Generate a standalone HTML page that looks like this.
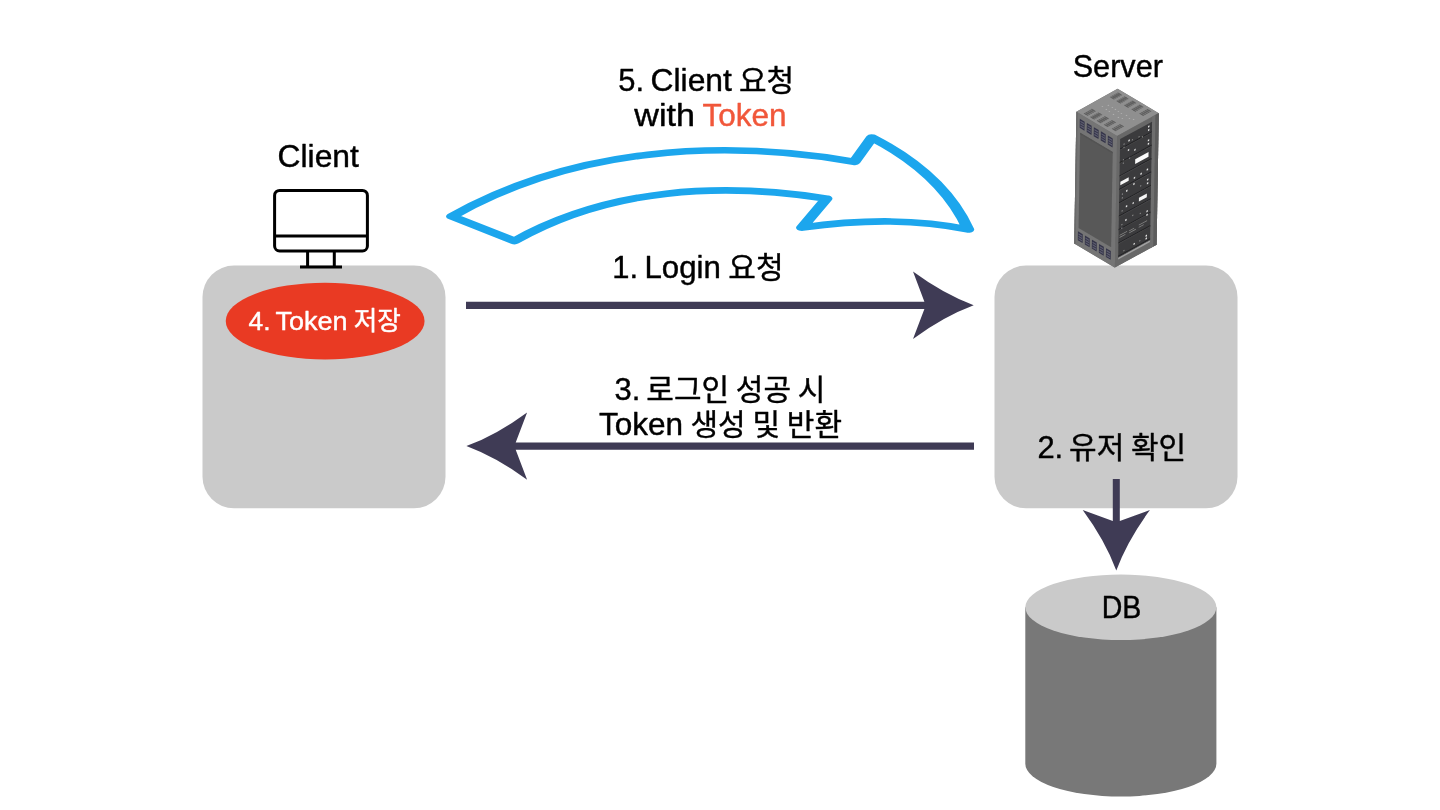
<!DOCTYPE html>
<html lang="ko">
<head>
<meta charset="utf-8">
<title>Token 인증 흐름</title>
<style>
html,body{margin:0;padding:0;background:#fff;}
body{width:1440px;height:810px;overflow:hidden;position:relative;}
svg{position:absolute;left:0;top:0;display:block;will-change:transform;}
text{font-family:"Liberation Sans", "Noto Sans CJK KR", sans-serif;white-space:pre;stroke-linejoin:round;}
</style>
</head>
<body>
<svg width="1440" height="810" viewBox="0 0 1440 810">
<!-- client / server boxes -->
<rect x="202.5" y="265.5" width="243" height="242.8" rx="31.5" ry="31.5" fill="#cacaca"/>
<rect x="994.5" y="265.5" width="243" height="242.8" rx="31.5" ry="31.5" fill="#cacaca"/>
<ellipse cx="325.15" cy="321.05" rx="99.4" ry="38.4" fill="#e93a23"/>
<!-- monitor icon -->
<g fill="none" stroke="#000" stroke-width="3">
<rect x="274.6" y="190.4" width="92.8" height="60.6" rx="5" ry="5"/>
<path d="M274.6,236 H367.4"/>
<path d="M307.6,251 V267 M334.3,251 V267"/>
<path d="M300,267 H342"/>
</g>
<!-- arrows -->
<path fill="#3f3b55" d="M466.0,301.7 H924.4 L913.0,271.6 Q943.4,294.0 973.7,305.3 Q943.4,316.6 913.0,339.0 L924.4,308.9 H466.0 Z"/>
<path fill="#3f3b55" d="M974.0,442.5 H515.7 L527.1,412.4 Q496.8,434.8 466.4,446.1 Q496.8,457.4 527.1,479.8 L515.7,449.7 H974.0 Z"/>
<path fill="#3f3b55" d="M1112.8,479.0 V521.0 L1082.7,510.0 Q1105.0,540.2 1116.3,570.4 Q1127.6,540.2 1149.9,510.0 L1119.8,521.0 V479.0 Z"/>
<!-- curved outline arrow -->
<g transform="scale(1.8 1)"><path fill="none" stroke="#1ca6ed" stroke-width="6.6" stroke-linejoin="round" d="M251.11,216.4 C318.55,148.0 399.67,138.5 474.72,161.8 L484.44,137.6 C506.71,158.3 527.27,187.6 537.94,229.5 C507.56,218.1 476.14,219.8 445.56,227.6 L459.17,198.6 C400.88,182.2 338.29,187.7 285.83,241.0 Z"/></g>
<!-- database cylinder -->
<path fill="#787878" d="M1025.3,607.3 V763.7 A95.5,32.8 0 0 0 1216.4,763.7 V607.3 Z"/>
<ellipse cx="1120.85" cy="607.3" rx="95.55" ry="32.8" fill="#cacaca"/>
<!-- server rack icon -->
<defs><filter id="soft" x="-5%" y="-5%" width="110%" height="110%"><feGaussianBlur stdDeviation="0.45"/></filter></defs>
<g id="server-rack" filter="url(#soft)">
<polygon points="1117.6,88.7 1158.8,113.3 1156.6,244.7 1114.9,267.5 1074.2,243.5 1076.4,111.8" fill="#727272"/>
<g transform="matrix(0.4070 0.2430 0.4120 -0.2310 1076.40 111.80)">
<rect x="0.0" y="0.0" width="100.0" height="100.0" fill="#8f8f8f"/>
<rect x="12.0" y="5.7" width="10.0" height="20.0" fill="#7a7a7a"/><rect x="12.0" y="5.7" width="10.0" height="2.0" fill="#5e5e5e"/><rect x="12.0" y="10.1" width="10.0" height="2.0" fill="#5e5e5e"/><rect x="12.0" y="14.5" width="10.0" height="2.0" fill="#5e5e5e"/><rect x="12.0" y="18.9" width="10.0" height="2.0" fill="#5e5e5e"/><rect x="12.0" y="23.3" width="10.0" height="2.0" fill="#5e5e5e"/><rect x="16.0" y="5.7" width="2.0" height="20.0" fill="#5e5e5e"/>
<rect x="27.4" y="6.3" width="10.0" height="20.0" fill="#7a7a7a"/><rect x="27.4" y="6.3" width="10.0" height="2.0" fill="#5e5e5e"/><rect x="27.4" y="10.7" width="10.0" height="2.0" fill="#5e5e5e"/><rect x="27.4" y="15.1" width="10.0" height="2.0" fill="#5e5e5e"/><rect x="27.4" y="19.5" width="10.0" height="2.0" fill="#5e5e5e"/><rect x="27.4" y="23.9" width="10.0" height="2.0" fill="#5e5e5e"/><rect x="31.4" y="6.3" width="2.0" height="20.0" fill="#5e5e5e"/>
<rect x="43.3" y="6.6" width="10.0" height="20.0" fill="#7a7a7a"/><rect x="43.3" y="6.6" width="10.0" height="2.0" fill="#5e5e5e"/><rect x="43.3" y="11.0" width="10.0" height="2.0" fill="#5e5e5e"/><rect x="43.3" y="15.4" width="10.0" height="2.0" fill="#5e5e5e"/><rect x="43.3" y="19.8" width="10.0" height="2.0" fill="#5e5e5e"/><rect x="43.3" y="24.2" width="10.0" height="2.0" fill="#5e5e5e"/><rect x="47.3" y="6.6" width="2.0" height="20.0" fill="#5e5e5e"/>
<rect x="60.0" y="7.3" width="10.0" height="20.0" fill="#7a7a7a"/><rect x="60.0" y="7.3" width="10.0" height="2.0" fill="#5e5e5e"/><rect x="60.0" y="11.7" width="10.0" height="2.0" fill="#5e5e5e"/><rect x="60.0" y="16.1" width="10.0" height="2.0" fill="#5e5e5e"/><rect x="60.0" y="20.5" width="10.0" height="2.0" fill="#5e5e5e"/><rect x="60.0" y="24.9" width="10.0" height="2.0" fill="#5e5e5e"/><rect x="64.0" y="7.3" width="2.0" height="20.0" fill="#5e5e5e"/>
<rect x="78.0" y="8.9" width="10.0" height="20.0" fill="#7a7a7a"/><rect x="78.0" y="8.9" width="10.0" height="2.0" fill="#5e5e5e"/><rect x="78.0" y="13.3" width="10.0" height="2.0" fill="#5e5e5e"/><rect x="78.0" y="17.7" width="10.0" height="2.0" fill="#5e5e5e"/><rect x="78.0" y="22.1" width="10.0" height="2.0" fill="#5e5e5e"/><rect x="78.0" y="26.5" width="10.0" height="2.0" fill="#5e5e5e"/><rect x="82.0" y="8.9" width="2.0" height="20.0" fill="#5e5e5e"/>
<rect x="8.6" y="72.7" width="10.0" height="20.0" fill="#7a7a7a"/><rect x="8.6" y="72.7" width="10.0" height="2.0" fill="#5e5e5e"/><rect x="8.6" y="77.1" width="10.0" height="2.0" fill="#5e5e5e"/><rect x="8.6" y="81.5" width="10.0" height="2.0" fill="#5e5e5e"/><rect x="8.6" y="85.9" width="10.0" height="2.0" fill="#5e5e5e"/><rect x="8.6" y="90.3" width="10.0" height="2.0" fill="#5e5e5e"/><rect x="12.6" y="72.7" width="2.0" height="20.0" fill="#5e5e5e"/>
<rect x="24.7" y="72.8" width="10.0" height="20.0" fill="#7a7a7a"/><rect x="24.7" y="72.8" width="10.0" height="2.0" fill="#5e5e5e"/><rect x="24.7" y="77.2" width="10.0" height="2.0" fill="#5e5e5e"/><rect x="24.7" y="81.6" width="10.0" height="2.0" fill="#5e5e5e"/><rect x="24.7" y="86.0" width="10.0" height="2.0" fill="#5e5e5e"/><rect x="24.7" y="90.4" width="10.0" height="2.0" fill="#5e5e5e"/><rect x="28.7" y="72.8" width="2.0" height="20.0" fill="#5e5e5e"/>
<rect x="42.7" y="73.5" width="10.0" height="20.0" fill="#7a7a7a"/><rect x="42.7" y="73.5" width="10.0" height="2.0" fill="#5e5e5e"/><rect x="42.7" y="77.9" width="10.0" height="2.0" fill="#5e5e5e"/><rect x="42.7" y="82.3" width="10.0" height="2.0" fill="#5e5e5e"/><rect x="42.7" y="86.7" width="10.0" height="2.0" fill="#5e5e5e"/><rect x="42.7" y="91.1" width="10.0" height="2.0" fill="#5e5e5e"/><rect x="46.7" y="73.5" width="2.0" height="20.0" fill="#5e5e5e"/>
<rect x="59.9" y="74.2" width="10.0" height="20.0" fill="#7a7a7a"/><rect x="59.9" y="74.2" width="10.0" height="2.0" fill="#5e5e5e"/><rect x="59.9" y="78.6" width="10.0" height="2.0" fill="#5e5e5e"/><rect x="59.9" y="83.0" width="10.0" height="2.0" fill="#5e5e5e"/><rect x="59.9" y="87.4" width="10.0" height="2.0" fill="#5e5e5e"/><rect x="59.9" y="91.8" width="10.0" height="2.0" fill="#5e5e5e"/><rect x="63.9" y="74.2" width="2.0" height="20.0" fill="#5e5e5e"/>
<rect x="78.4" y="75.1" width="10.0" height="20.0" fill="#7a7a7a"/><rect x="78.4" y="75.1" width="10.0" height="2.0" fill="#5e5e5e"/><rect x="78.4" y="79.5" width="10.0" height="2.0" fill="#5e5e5e"/><rect x="78.4" y="83.9" width="10.0" height="2.0" fill="#5e5e5e"/><rect x="78.4" y="88.3" width="10.0" height="2.0" fill="#5e5e5e"/><rect x="78.4" y="92.7" width="10.0" height="2.0" fill="#5e5e5e"/><rect x="82.4" y="75.1" width="2.0" height="20.0" fill="#5e5e5e"/>
<rect x="18.5" y="42.4" width="2.4" height="2.4" fill="#b4b4b4"/>
<rect x="23.1" y="52.3" width="2.4" height="2.4" fill="#b4b4b4"/>
<rect x="29.4" y="41.2" width="2.4" height="2.4" fill="#b4b4b4"/>
<rect x="32.3" y="52.8" width="2.4" height="2.4" fill="#b4b4b4"/>
<rect x="40.2" y="52.6" width="2.4" height="2.4" fill="#b4b4b4"/>
<rect x="37.3" y="40.6" width="2.4" height="2.4" fill="#b4b4b4"/>
<rect x="48.1" y="52.0" width="2.4" height="2.4" fill="#b4b4b4"/>
<rect x="48.5" y="39.7" width="2.4" height="2.4" fill="#b4b4b4"/>
<rect x="55.8" y="51.6" width="2.4" height="2.4" fill="#b4b4b4"/>
<rect x="60.7" y="39.5" width="2.4" height="2.4" fill="#b4b4b4"/>
<rect x="66.1" y="53.9" width="2.4" height="2.4" fill="#b4b4b4"/>
<rect x="67.5" y="42.3" width="2.4" height="2.4" fill="#b4b4b4"/>
<rect x="76.0" y="51.2" width="2.4" height="2.4" fill="#b4b4b4"/>
<rect x="83.0" y="54.5" width="2.4" height="2.4" fill="#b4b4b4"/>
</g>
<g transform="matrix(0.4070 0.2430 -0.0220 1.3170 1076.40 111.80)">
<rect x="0.0" y="0.0" width="100.0" height="100.0" fill="#747474"/>
<rect x="0.0" y="0.0" width="3.5" height="100.0" fill="#6a6a6a"/>
<rect x="10.0" y="14.0" width="80.0" height="72.3" fill="#595959"/>
<rect x="10.0" y="14.0" width="80.0" height="1.2" fill="#525252"/>
<rect x="8.6" y="3.7" width="11.8" height="6.9" fill="#343448"/>
<rect x="10.1" y="4.9" width="8.8" height="1.0" fill="#5e5e70"/>
<rect x="10.1" y="6.7" width="8.8" height="1.0" fill="#5e5e70"/>
<rect x="10.1" y="8.5" width="8.8" height="1.0" fill="#5e5e70"/>
<rect x="8.6" y="89.2" width="11.8" height="6.7" fill="#343448"/>
<rect x="10.1" y="90.4" width="8.8" height="1.0" fill="#5e5e70"/>
<rect x="10.1" y="92.2" width="8.8" height="1.0" fill="#5e5e70"/>
<rect x="10.1" y="94.0" width="8.8" height="1.0" fill="#5e5e70"/>
<rect x="25.9" y="3.7" width="11.8" height="6.9" fill="#343448"/>
<rect x="27.4" y="4.9" width="8.8" height="1.0" fill="#5e5e70"/>
<rect x="27.4" y="6.7" width="8.8" height="1.0" fill="#5e5e70"/>
<rect x="27.4" y="8.5" width="8.8" height="1.0" fill="#5e5e70"/>
<rect x="25.9" y="89.2" width="11.8" height="6.7" fill="#343448"/>
<rect x="27.4" y="90.4" width="8.8" height="1.0" fill="#5e5e70"/>
<rect x="27.4" y="92.2" width="8.8" height="1.0" fill="#5e5e70"/>
<rect x="27.4" y="94.0" width="8.8" height="1.0" fill="#5e5e70"/>
<rect x="43.1" y="3.7" width="11.8" height="6.9" fill="#343448"/>
<rect x="44.6" y="4.9" width="8.8" height="1.0" fill="#5e5e70"/>
<rect x="44.6" y="6.7" width="8.8" height="1.0" fill="#5e5e70"/>
<rect x="44.6" y="8.5" width="8.8" height="1.0" fill="#5e5e70"/>
<rect x="43.1" y="89.2" width="11.8" height="6.7" fill="#343448"/>
<rect x="44.6" y="90.4" width="8.8" height="1.0" fill="#5e5e70"/>
<rect x="44.6" y="92.2" width="8.8" height="1.0" fill="#5e5e70"/>
<rect x="44.6" y="94.0" width="8.8" height="1.0" fill="#5e5e70"/>
<rect x="60.4" y="3.7" width="11.8" height="6.9" fill="#343448"/>
<rect x="61.9" y="4.9" width="8.8" height="1.0" fill="#5e5e70"/>
<rect x="61.9" y="6.7" width="8.8" height="1.0" fill="#5e5e70"/>
<rect x="61.9" y="8.5" width="8.8" height="1.0" fill="#5e5e70"/>
<rect x="60.4" y="89.2" width="11.8" height="6.7" fill="#343448"/>
<rect x="61.9" y="90.4" width="8.8" height="1.0" fill="#5e5e70"/>
<rect x="61.9" y="92.2" width="8.8" height="1.0" fill="#5e5e70"/>
<rect x="61.9" y="94.0" width="8.8" height="1.0" fill="#5e5e70"/>
<rect x="77.6" y="3.7" width="11.8" height="6.9" fill="#343448"/>
<rect x="79.1" y="4.9" width="8.8" height="1.0" fill="#5e5e70"/>
<rect x="79.1" y="6.7" width="8.8" height="1.0" fill="#5e5e70"/>
<rect x="79.1" y="8.5" width="8.8" height="1.0" fill="#5e5e70"/>
<rect x="77.6" y="89.2" width="11.8" height="6.7" fill="#343448"/>
<rect x="79.1" y="90.4" width="8.8" height="1.0" fill="#5e5e70"/>
<rect x="79.1" y="92.2" width="8.8" height="1.0" fill="#5e5e70"/>
<rect x="79.1" y="94.0" width="8.8" height="1.0" fill="#5e5e70"/>
</g>
<g transform="matrix(0.4170 -0.2280 -0.0220 1.3140 1117.10 136.10)">
<rect x="0.0" y="0.0" width="100.0" height="100.0" fill="#686868"/>
<rect x="84.0" y="0.0" width="8.0" height="100.0" fill="#6e6e6e"/>
<rect x="92.0" y="0.0" width="8.0" height="100.0" fill="#5c5c5c"/>
<rect x="7.5" y="3.6" width="76.5" height="90.0" fill="#3b3b3d"/>
<rect x="7.5" y="93.6" width="76.5" height="1.6" fill="#a0a0a0"/>
<rect x="7.5" y="10.8" width="76.5" height="0.9" fill="#242426"/>
<rect x="7.5" y="11.7" width="76.5" height="0.5" fill="#4a4a4c"/>
<rect x="7.5" y="21.0" width="76.5" height="0.9" fill="#242426"/>
<rect x="7.5" y="21.9" width="76.5" height="0.5" fill="#4a4a4c"/>
<rect x="7.5" y="31.2" width="76.5" height="0.9" fill="#242426"/>
<rect x="7.5" y="32.1" width="76.5" height="0.5" fill="#4a4a4c"/>
<rect x="7.5" y="41.4" width="76.5" height="0.9" fill="#242426"/>
<rect x="7.5" y="42.3" width="76.5" height="0.5" fill="#4a4a4c"/>
<rect x="7.5" y="51.6" width="76.5" height="0.9" fill="#242426"/>
<rect x="7.5" y="52.5" width="76.5" height="0.5" fill="#4a4a4c"/>
<rect x="7.5" y="61.8" width="76.5" height="0.9" fill="#242426"/>
<rect x="7.5" y="62.7" width="76.5" height="0.5" fill="#4a4a4c"/>
<rect x="7.5" y="72.0" width="76.5" height="0.9" fill="#242426"/>
<rect x="7.5" y="72.9" width="76.5" height="0.5" fill="#4a4a4c"/>
<rect x="7.5" y="82.2" width="76.5" height="0.9" fill="#242426"/>
<rect x="7.5" y="83.1" width="76.5" height="0.5" fill="#4a4a4c"/>
<rect x="7.5" y="92.4" width="76.5" height="0.9" fill="#242426"/>
<rect x="7.5" y="93.3" width="76.5" height="0.5" fill="#4a4a4c"/>
<rect x="44.8" y="25.4" width="32.0" height="3.6" fill="#fbfbfb"/>
<rect x="9.8" y="36.5" width="20.0" height="2.6" fill="#f6f6f6"/>
<rect x="55.4" y="56.6" width="19.0" height="2.8" fill="#f6f6f6"/>
<rect x="27.5" y="7.7" width="3.4" height="1.3" fill="#e6e6e6"/>
<rect x="74.5" y="5.2" width="3.4" height="1.3" fill="#e6e6e6"/>
<rect x="74.5" y="7.9" width="3.4" height="1.3" fill="#e6e6e6"/>
<rect x="74.5" y="15.8" width="3.4" height="1.3" fill="#e6e6e6"/>
<rect x="74.5" y="18.4" width="3.4" height="1.3" fill="#e6e6e6"/>
<rect x="26.5" y="14.9" width="3.4" height="1.3" fill="#e6e6e6"/>
<rect x="42.0" y="17.4" width="3.4" height="1.3" fill="#e6e6e6"/>
<rect x="73.0" y="37.7" width="3.4" height="1.3" fill="#e6e6e6"/>
<rect x="58.0" y="38.4" width="3.4" height="1.3" fill="#e6e6e6"/>
<rect x="42.0" y="38.7" width="3.4" height="1.3" fill="#e6e6e6"/>
<rect x="74.0" y="45.6" width="3.4" height="1.3" fill="#e6e6e6"/>
<rect x="74.0" y="48.3" width="3.4" height="1.3" fill="#e6e6e6"/>
<rect x="41.0" y="43.2" width="3.4" height="1.3" fill="#e6e6e6"/>
<rect x="24.0" y="45.4" width="3.4" height="1.3" fill="#e6e6e6"/>
<rect x="40.0" y="57.6" width="3.4" height="1.3" fill="#e6e6e6"/>
<rect x="24.0" y="57.2" width="3.4" height="1.3" fill="#e6e6e6"/>
<rect x="74.0" y="69.6" width="3.4" height="1.3" fill="#e6e6e6"/>
<rect x="74.0" y="72.3" width="3.4" height="1.3" fill="#e6e6e6"/>
<rect x="23.0" y="67.5" width="3.4" height="1.3" fill="#e6e6e6"/>
<rect x="73.0" y="88.2" width="3.4" height="1.3" fill="#e6e6e6"/>
<rect x="73.0" y="90.2" width="3.4" height="1.3" fill="#e6e6e6"/>
<rect x="44.0" y="89.3" width="3.4" height="1.3" fill="#e6e6e6"/>
<rect x="16.0" y="8.6" width="2.4" height="0.9" fill="#9a9a9a"/>
<rect x="16.0" y="11.2" width="2.4" height="0.9" fill="#9a9a9a"/>
<rect x="36.0" y="8.8" width="2.4" height="0.9" fill="#9a9a9a"/>
<rect x="52.0" y="9.3" width="2.4" height="0.9" fill="#9a9a9a"/>
<rect x="60.0" y="10.8" width="2.4" height="0.9" fill="#9a9a9a"/>
<rect x="15.0" y="20.4" width="2.4" height="0.9" fill="#9a9a9a"/>
<rect x="15.0" y="23.0" width="2.4" height="0.9" fill="#9a9a9a"/>
<rect x="30.0" y="21.8" width="2.4" height="0.9" fill="#9a9a9a"/>
<rect x="14.0" y="46.3" width="2.4" height="0.9" fill="#9a9a9a"/>
<rect x="14.0" y="49.2" width="2.4" height="0.9" fill="#9a9a9a"/>
<rect x="58.0" y="47.7" width="2.4" height="0.9" fill="#9a9a9a"/>
<rect x="14.0" y="59.1" width="2.4" height="0.9" fill="#9a9a9a"/>
<rect x="58.0" y="68.7" width="2.4" height="0.9" fill="#9a9a9a"/>
<rect x="40.0" y="67.0" width="2.4" height="0.9" fill="#9a9a9a"/>
<rect x="14.0" y="69.6" width="2.4" height="0.9" fill="#9a9a9a"/>
<rect x="14.0" y="72.2" width="2.4" height="0.9" fill="#9a9a9a"/>
<rect x="58.0" y="89.5" width="2.4" height="0.9" fill="#9a9a9a"/>
<rect x="20.0" y="90.3" width="2.4" height="0.9" fill="#9a9a9a"/>
<rect x="10.0" y="77.0" width="18.0" height="0.6" fill="#8c8c8c"/>
<rect x="10.0" y="78.6" width="14.0" height="0.6" fill="#8c8c8c"/>
<rect x="33.0" y="77.6" width="12.0" height="0.6" fill="#8c8c8c"/>
<rect x="33.0" y="79.1" width="16.0" height="0.6" fill="#8c8c8c"/>
<rect x="56.0" y="77.2" width="20.0" height="0.6" fill="#8c8c8c"/>
<rect x="56.0" y="78.9" width="12.0" height="0.6" fill="#8c8c8c"/>
</g>
</g>

<!-- labels -->
<text id="t-client" y="166.7" fill="#000" stroke="#000" stroke-width="0.42"><tspan x="277.5" font-size="30.9" textLength="81.4" lengthAdjust="spacingAndGlyphs">Client</tspan></text>
<text id="t-server" y="77.2" fill="#000" stroke="#000" stroke-width="0.42"><tspan x="1072.7" font-size="30.9" textLength="90.2" lengthAdjust="spacingAndGlyphs">Server</tspan></text>
<text id="t-req5" y="90.9" fill="#000" stroke="#000" stroke-width="0.42"><tspan x="618.3" font-size="30.9" textLength="25.8" lengthAdjust="spacingAndGlyphs">5.</tspan> <tspan x="650.5" font-size="30.9" textLength="81.4" lengthAdjust="spacingAndGlyphs">Client</tspan> <tspan x="738.9" font-size="30">요청</tspan></text>
<text id="t-with" y="125.9" fill="#000" stroke="#000" stroke-width="0.42"><tspan x="634.3" font-size="30.9" textLength="60.6" lengthAdjust="spacingAndGlyphs">with</tspan> <tspan x="702.4" font-size="30.9" textLength="84.1" lengthAdjust="spacingAndGlyphs" fill="#f1573a" stroke="#f1573a">Token</tspan></text>
<text id="t-login" y="277.7" fill="#000" stroke="#000" stroke-width="0.42"><tspan x="612.3" font-size="30.9" textLength="25.8" lengthAdjust="spacingAndGlyphs">1.</tspan> <tspan x="644.5" font-size="30.9" textLength="76.4" lengthAdjust="spacingAndGlyphs">Login</tspan> <tspan x="728.3" font-size="30">요청</tspan></text>
<text id="t-succ" y="399.7" fill="#000" stroke="#000" stroke-width="0.42"><tspan x="614.5" font-size="30.9" textLength="25.8" lengthAdjust="spacingAndGlyphs">3.</tspan> <tspan x="646.3" font-size="30">로그인</tspan> <tspan x="735.8" font-size="30">성공</tspan> <tspan x="797.7" font-size="30">시</tspan></text>
<text id="t-gen" y="435.4" fill="#000" stroke="#000" stroke-width="0.42"><tspan x="599.0" font-size="30.9" textLength="84.1" lengthAdjust="spacingAndGlyphs">Token</tspan> <tspan x="690.5" font-size="30">생성</tspan> <tspan x="752.4" font-size="30">및</tspan> <tspan x="786.8" font-size="30">반환</tspan></text>
<text id="t-user" y="457.9" fill="#000" stroke="#000" stroke-width="0.42"><tspan x="1037.4" font-size="30.9" textLength="25.8" lengthAdjust="spacingAndGlyphs">2.</tspan> <tspan x="1069.1" font-size="30">유저</tspan> <tspan x="1131.0" font-size="30">확인</tspan></text>
<text id="t-db" y="617.9" fill="#000" stroke="#000" stroke-width="0.42"><tspan x="1101.7" font-size="30.9" textLength="39.6" lengthAdjust="spacingAndGlyphs">DB</tspan></text>
<text id="t-save" y="330.0" fill="#fff" stroke="#fff" stroke-width="0.42"><tspan x="248.6" font-size="26.37" textLength="22.0" lengthAdjust="spacingAndGlyphs">4.</tspan> <tspan x="275.6" font-size="26.37" textLength="72.0" lengthAdjust="spacingAndGlyphs">Token</tspan> <tspan x="353.7" font-size="25.6">저장</tspan></text>
</svg>
</body>
</html>
